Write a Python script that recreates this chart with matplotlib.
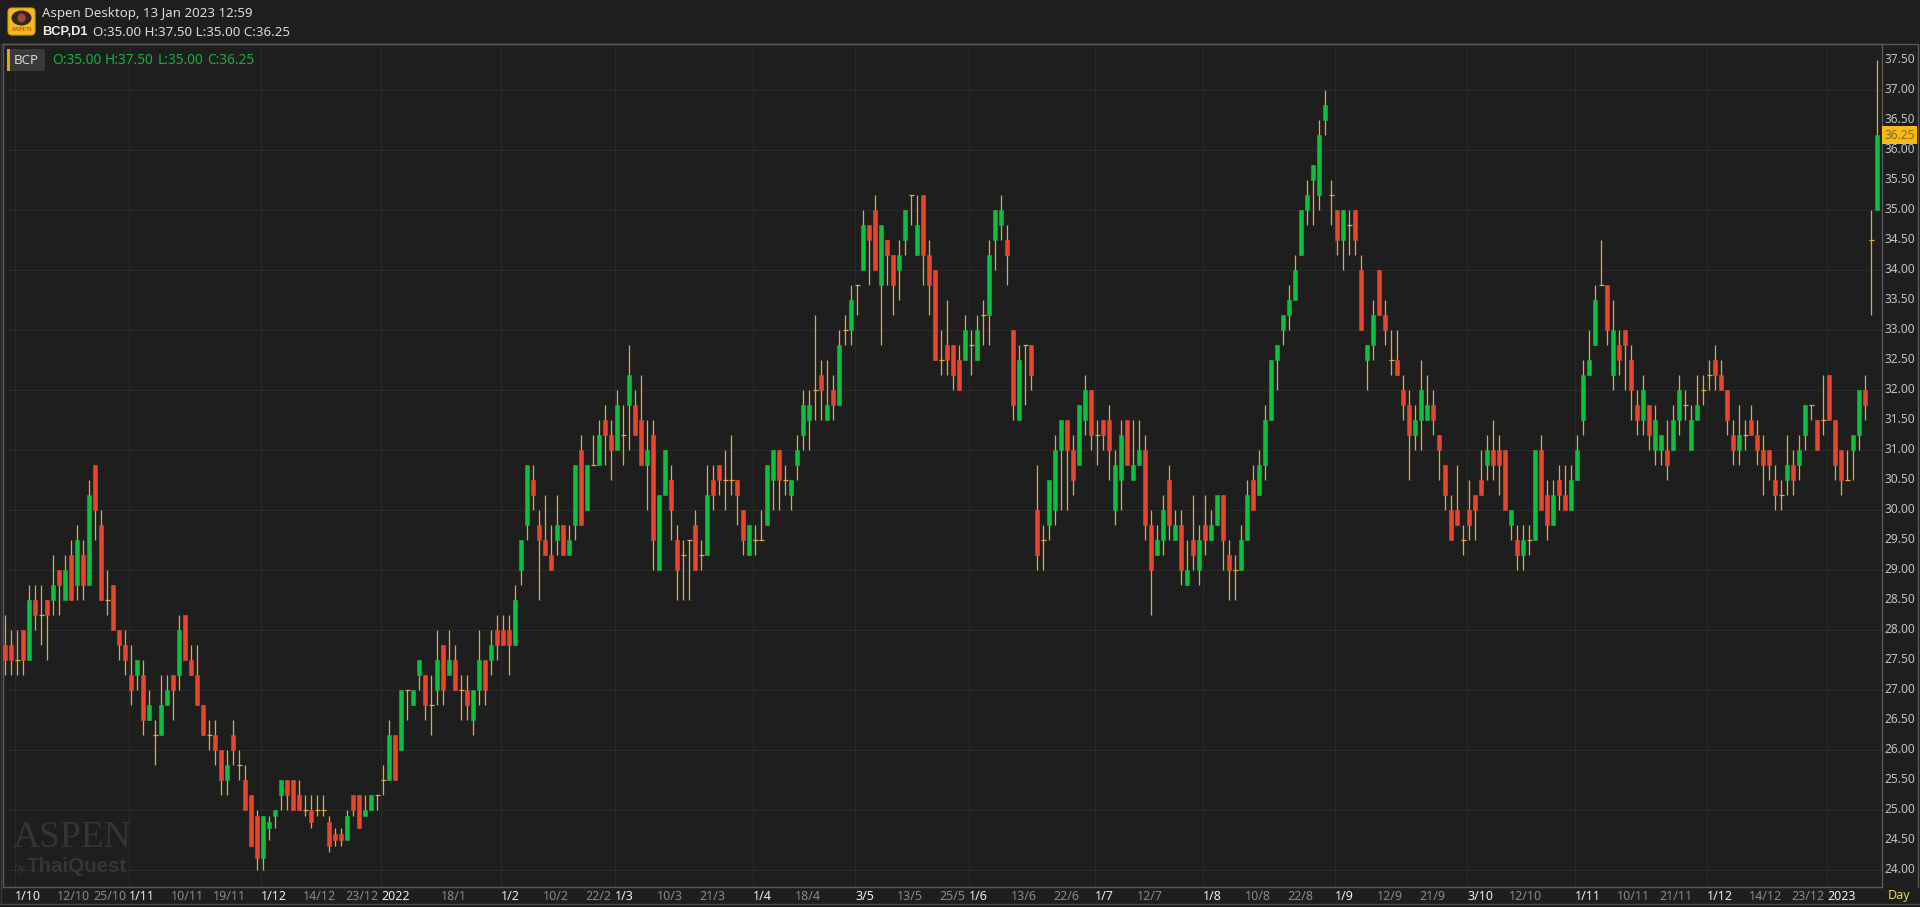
import matplotlib
matplotlib.use("Agg")
import matplotlib.pyplot as plt
from matplotlib.patches import FancyBboxPatch, Ellipse, Rectangle
from matplotlib.transforms import ScaledTranslation

plt.rcParams['font.family'] = ['Noto Sans', 'DejaVu Sans']

# BCP daily candles
opens = [
    27.75, 27.75, 27.5, 28, 27.5, 28.5, 28.25, 28.5, 28.5, 29,
    28.5, 29.25, 28.75, 29.25, 28.75, 30.75, 29.75, 28.5, 28.75, 28,
    27.75, 27.25, 27.25, 27.25, 26.5, 26.25, 26.25, 26.75, 27.25, 27.25,
    28.25, 27.5, 27.25, 26.75, 26.25, 26.25, 26, 25.5, 26.25, 25.75,
    25.5, 25.25, 24.9, 24.2, 24.7, 24.9, 25.25, 25.5, 25.5, 25.25,
    25, 25, 25, 25, 24.8, 24.6, 24.6, 24.5, 25.25, 25.25,
    24.9, 25, 25.25, 25.5, 25.5, 26.25, 26, 27, 26.75, 27.25,
    27.25, 26.75, 27, 27.75, 27.25, 27.5, 27, 27, 26.5, 27,
    27.5, 27.5, 28, 28, 28, 27.75, 29, 29.75, 30.5, 29.75,
    29.5, 29.25, 29.5, 29.75, 29.25, 29.75, 31, 30, 30.75, 30.75,
    31.5, 31.25, 31, 31.25, 31.75, 31.75, 31.5, 30.75, 31.25, 29,
    30.25, 30.5, 29.5, 29.25, 29.5, 29.75, 29.25, 29.25, 30.5, 30.75,
    30.5, 30.5, 30.5, 30, 29.25, 29.5, 29.5, 29.75, 30.5, 31,
    30.5, 30.25, 30.75, 31.25, 31.5, 32, 32.25, 31.5, 32, 31.75,
    33, 33, 33.75, 34, 34.75, 35, 33.75, 34.5, 34.25, 34,
    34.5, 35.25, 34.25, 35.25, 34.25, 34, 32.5, 32.75, 32.75, 32.5,
    32.5, 32.75, 32.5, 33.25, 33.25, 34.5, 34.75, 34.5, 33, 31.5,
    32.75, 32.75, 30, 29.5, 29.75, 30, 31, 31.5, 31, 30.75,
    31.5, 32, 31.25, 31.5, 31.5, 30, 30.5, 31.5, 30.5, 30.75,
    31, 29.75, 29.25, 29.5, 30.5, 29.5, 29.75, 28.75, 29.5, 29,
    29.75, 29.5, 29.75, 30.25, 29.25, 29, 29, 29.5, 30.5, 30.25,
    30.75, 31.5, 32.5, 33, 33.25, 33.5, 34.25, 35, 35.5, 35.25,
    36.5, 35.25, 35, 34.5, 34.75, 35, 34, 32.5, 32.75, 34,
    33.25, 32.5, 32.5, 32, 31.75, 31.25, 31.5, 31.5, 31.75, 31.25,
    30.75, 30, 30, 29.5, 30, 30.25, 30.5, 30.75, 31, 31,
    31, 29.75, 29.5, 29.25, 29.5, 29.5, 31, 30.25, 29.75, 30.5,
    30.25, 30, 30.5, 31.5, 32.25, 32.75, 33.75, 33.75, 32.25, 32.75,
    33, 32.5, 31.75, 31.5, 31.75, 31, 31, 31, 31, 31.5,
    31.75, 31, 31.5, 32, 32.25, 32.5, 32.25, 32, 31.25, 31,
    31.25, 31.5, 31.25, 31, 31, 30.5, 30.25, 30.5, 30.75, 30.75,
    31.25, 31.75, 31.5, 31.5, 32.25, 31.5, 31, 30.5, 31, 31.25,
    32, 34.5, 35,
]
highs = [
    28.25, 28, 28, 28, 28.75, 28.75, 28.75, 28.5, 29.25, 29,
    29.25, 29.5, 29.75, 29.5, 30.5, 30.75, 30, 29, 28.75, 28,
    28, 27.75, 27.5, 27.5, 27, 26.5, 27.25, 27.25, 27.25, 28.25,
    28.25, 27.75, 27.75, 26.75, 26.5, 26.5, 26, 26, 26.5, 26,
    25.75, 25.25, 25, 24.9, 24.9, 25, 25.5, 25.5, 25.5, 25.5,
    25.25, 25.25, 25.25, 25.25, 24.9, 24.7, 24.7, 25, 25.25, 25.25,
    25.25, 25.25, 25.25, 25.75, 26.5, 26.25, 27, 27, 27, 27.5,
    27.25, 27.25, 28, 27.75, 28, 27.75, 27.25, 27.25, 27, 28,
    27.5, 28, 28.25, 28.25, 28.25, 28.75, 29.5, 30.75, 30.75, 30,
    30.25, 29.75, 30.25, 29.75, 29.75, 30.75, 31.25, 30.75, 31.25, 31.5,
    31.75, 31.5, 32, 31.75, 32.75, 32, 32.25, 31.5, 31.5, 30.25,
    31, 30.75, 29.75, 29.5, 29.5, 30, 29.5, 30.75, 30.75, 30.75,
    31, 31.25, 30.5, 30, 29.75, 29.75, 30, 30.75, 31, 31,
    30.75, 30.5, 31.25, 32, 32, 33.25, 32.5, 32.5, 32.25, 33,
    33.25, 33.75, 33.75, 35, 34.75, 35.25, 34.75, 34.5, 34.25, 34.5,
    35, 35.25, 35.25, 35.25, 34.5, 34, 33, 33.5, 32.75, 32.75,
    33.25, 33, 33.25, 33.5, 34.5, 35, 35.25, 34.75, 33, 32.75,
    32.75, 32.75, 30.75, 29.75, 30.5, 31.25, 31.5, 31.5, 31.25, 31.75,
    32.25, 32, 31.5, 31.5, 31.75, 31, 31.5, 31.5, 31.5, 31.5,
    31.25, 30, 29.75, 30.25, 30.75, 30, 30, 29.5, 30.25, 29.75,
    30.25, 30, 30.25, 30.25, 29.5, 29.25, 29.75, 30.5, 30.75, 31,
    31.75, 32.5, 32.75, 33.25, 33.75, 34.25, 35, 35.5, 35.75, 36.5,
    37, 35.5, 35, 35, 35, 35, 34.25, 32.75, 33.5, 34,
    33.5, 33, 33, 32.25, 32, 31.75, 32.5, 32.25, 32, 31.25,
    30.75, 30.25, 30.75, 29.75, 30.5, 30.25, 31, 31.25, 31.5, 31.25,
    31, 30, 29.75, 29.75, 29.75, 31, 31.25, 30.5, 30.5, 30.75,
    30.75, 30.75, 31.25, 32.5, 33, 33.75, 34.5, 33.75, 33.5, 33,
    33, 32.75, 32, 32.25, 31.75, 31.75, 31.25, 31.5, 31.75, 32.25,
    32, 31.75, 32.25, 32.25, 32.5, 32.75, 32.5, 32, 31.5, 31.75,
    31.5, 31.75, 31.5, 31.25, 31, 30.75, 30.5, 31.25, 31, 31.25,
    31.75, 31.75, 31.5, 32.25, 32.25, 31.5, 31, 31, 31.25, 32,
    32.25, 35, 37.5,
]
lows = [
    27.25, 27.25, 27.25, 27.25, 27.5, 28, 27.75, 27.5, 28.25, 28.25,
    28.5, 28.5, 28.5, 28.5, 28.75, 29.5, 28.5, 28.25, 28, 27.5,
    27.25, 26.75, 27, 26.25, 26.5, 25.75, 26.25, 26.75, 26.5, 27,
    27.5, 27.25, 26.75, 26.25, 26, 25.75, 25.25, 25.25, 25.75, 25.5,
    25, 24.4, 24, 24, 24.5, 24.7, 25, 25, 25, 25,
    24.9, 24.7, 24.9, 24.9, 24.3, 24.4, 24.4, 24.5, 24.9, 24.7,
    24.9, 25, 25, 25.25, 25.5, 25.5, 26, 26.5, 26.75, 27,
    26.5, 26.25, 26.75, 26.75, 27.25, 27, 26.5, 26.5, 26.25, 26.75,
    26.75, 27.25, 27.5, 27.75, 27.25, 27.75, 28.75, 29.5, 30, 28.5,
    29.25, 29, 29.25, 29.25, 29.25, 29.5, 29.75, 30, 30.75, 30.75,
    30.75, 30.5, 31, 30.75, 31, 31.25, 30.75, 30, 29, 29,
    30.25, 29.5, 28.5, 28.5, 28.5, 29, 29, 29.25, 30, 30.25,
    30, 30.25, 29.75, 29.25, 29.25, 29.25, 29.5, 29.75, 30, 30,
    30.25, 30, 30.5, 31, 31, 31.5, 31.5, 31.5, 31.5, 31.75,
    32.75, 32.75, 33.25, 34, 33.75, 34, 32.75, 33.75, 33.25, 33.5,
    34.25, 34.75, 34.25, 33.75, 33.25, 32.5, 32.25, 32.25, 32, 32,
    32.5, 32.25, 32.5, 32.75, 32.75, 34, 34.5, 33.75, 31.5, 31.5,
    31.75, 32, 29, 29, 29.5, 29.75, 30, 30, 30.25, 30.75,
    31.25, 31, 30.75, 31, 30.5, 29.75, 30, 30.75, 30.5, 30.75,
    29.5, 28.25, 29.25, 29.25, 29.5, 29.5, 28.75, 28.75, 29, 28.75,
    29.25, 29.5, 29.75, 29, 28.5, 28.5, 29, 29.5, 30, 30.25,
    30.5, 31.5, 32, 32.75, 33, 33.5, 34.25, 34.75, 34.75, 35,
    36.25, 34.75, 34.25, 34, 34.25, 34.25, 33, 32, 32.5, 33.25,
    32.75, 32.25, 32.25, 31.5, 30.5, 31, 31, 31.5, 31.25, 30.5,
    30, 29.5, 29.75, 29.25, 29.5, 29.5, 30.25, 30.5, 30.5, 30.25,
    30, 29.5, 29, 29, 29.25, 29.5, 30, 29.5, 29.75, 30,
    30, 30, 30.5, 31.25, 32.25, 32.75, 33.75, 32.75, 32, 32.25,
    32, 31.5, 31.25, 31.25, 31, 30.75, 30.75, 30.5, 31, 31.25,
    31.5, 31, 31.5, 31.75, 32, 32, 32, 31.25, 30.75, 30.75,
    31, 31.25, 30.75, 30.25, 30.5, 30, 30, 30.25, 30.25, 30.5,
    31, 31.5, 31, 31.25, 31.5, 30.5, 30.25, 30.5, 30.5, 31,
    31.5, 33.25, 35,
]
closes = [
    27.5, 27.5, 27.5, 27.5, 28.5, 28.25, 28.25, 28.25, 28.75, 28.75,
    29, 28.5, 29.5, 28.75, 30.25, 30, 28.5, 28.5, 28, 27.75,
    27.5, 27, 27.5, 26.5, 26.75, 26.25, 26.75, 27, 27, 28,
    27.5, 27.25, 26.75, 26.25, 26.25, 26, 25.5, 25.75, 26, 25.75,
    25, 24.4, 24.2, 24.9, 24.8, 25, 25.5, 25.25, 25, 25,
    25, 24.8, 25, 25, 24.4, 24.5, 24.5, 24.9, 25, 24.7,
    25, 25.25, 25.25, 25.5, 26.25, 25.5, 27, 27, 27, 27.5,
    26.75, 26.75, 27.5, 27, 27.5, 27, 27, 26.75, 27, 27.5,
    27, 27.75, 27.75, 27.75, 27.75, 28.5, 29.5, 30.75, 30.25, 29.5,
    29.25, 29, 29.75, 29.25, 29.5, 30.75, 29.75, 30.75, 30.75, 31.25,
    31.25, 31, 31.75, 31.25, 32.25, 31.25, 30.75, 31, 29.5, 30.25,
    31, 30, 29, 29.25, 29.5, 29, 29.25, 30.25, 30.25, 30.5,
    30.5, 30.5, 30.25, 29.5, 29.75, 29.5, 29.5, 30.75, 31, 30.5,
    30.5, 30.5, 31, 31.75, 31.75, 32, 32, 31.75, 31.75, 32.75,
    33, 33.5, 33.75, 34.75, 34.5, 34, 34.75, 34.25, 33.75, 34.25,
    35, 35.25, 34.75, 34.25, 33.75, 32.5, 32.5, 32.5, 32.25, 32,
    33, 32.75, 33, 33.25, 34.25, 35, 35, 34.25, 31.75, 32.5,
    32.75, 32.25, 29.25, 29.5, 30.5, 31, 31.5, 31, 30.5, 31.75,
    32, 31.25, 31.25, 31.25, 31, 30.75, 31.25, 30.75, 30.75, 31,
    29.75, 29, 29.5, 30, 29.75, 29.75, 29, 29, 29.25, 29.5,
    29.5, 29.75, 30.25, 29.5, 29, 29, 29.5, 30.25, 30, 30.75,
    31.5, 32.5, 32.75, 33.25, 33.5, 34, 35, 35.25, 35.75, 36.25,
    36.75, 35.25, 34.5, 35, 34.75, 34.5, 33, 32.75, 33.25, 33.25,
    33, 32.5, 32.25, 31.75, 31.25, 31.5, 32, 31.75, 31.5, 31,
    30.25, 29.5, 29.75, 29.5, 29.75, 30, 30.25, 31, 30.75, 30.75,
    30, 30, 29.25, 29.5, 29.5, 31, 30, 29.75, 30.25, 30.25,
    30, 30.5, 31, 32.25, 32.5, 33.5, 33.75, 33, 33, 32.5,
    32.75, 32, 31.5, 32, 31.25, 31.5, 31.25, 30.75, 31.5, 32,
    31.75, 31.5, 31.75, 32, 32.25, 32.25, 32, 31.5, 31, 31.25,
    31.25, 31.25, 31, 30.75, 30.75, 30.25, 30.25, 30.75, 30.5, 31,
    31.75, 31.75, 31, 31.5, 31.5, 30.75, 30.5, 30.5, 31.25, 32,
    31.75, 34.5, 36.25,
]

# month starts (bright labels, with grid line) and the dates between them
month_bars = [2, 21, 43, 63, 83, 102, 125, 142, 161, 182, 200, 222, 244, 262, 284, 304]
month_labels = ['1/10', '1/11', '1/12', '2022', '1/2', '1/3', '1/4', '3/5', '1/6',
                '1/7', '1/8', '1/9', '3/10', '1/11', '1/12', '2023']
date_bars = [9, 15, 28, 35, 50, 57, 73, 90, 97, 109, 116, 132, 149, 156, 168, 175,
             189, 207, 214, 229, 236, 251, 269, 276, 291, 298]
date_labels = ['12/10', '25/10', '10/11', '19/11', '14/12', '23/12', '18/1', '10/2',
               '22/2', '10/3', '21/3', '18/4', '13/5', '25/5', '13/6', '22/6', '12/7',
               '10/8', '22/8', '12/9', '21/9', '12/10', '10/11', '21/11', '14/12', '23/12']
price_major = [24, 25, 26, 27, 28, 29, 30, 31, 32, 33, 34, 35, 36, 37]
price_minor = [24.5, 25.5, 26.5, 27.5, 28.5, 29.5, 30.5, 31.5, 32.5, 33.5, 34.5, 35.5, 36.5, 37.5]

BG = '#1e1e1e'
GRID = '#2a2a2a'
FRAME = '#5a5a5a'
UP = '#0cbf3e'
DOWN = '#e8452f'
WICK = '#e6a93a'

W, H = 1920, 907
fig = plt.figure(figsize=(W / 100, H / 100), dpi=100, facecolor=BG)

# chart area in pixels: x 3..1882, y 44..887
ax = fig.add_axes([3 / W, 1 - 887 / H, 1879 / W, 843 / H], facecolor=BG)
ax.set_xlim(-0.383, 312.783)
ax.set_ylim(23.717, 37.767)

# Wicks first, then bodies on top
bars = range(len(opens))
ax.vlines(bars, lows, highs, color=WICK, lw=0.9, zorder=3)
for i in bars:
    o, c = opens[i], closes[i]
    if o == c:
        ax.hlines(o, i - 0.42, i + 0.42, color=WICK, lw=0.9, zorder=3)
    else:
        col = UP if c > o else DOWN
        ax.bar(i, abs(c - o), bottom=min(o, c), width=0.72, color=col,
               edgecolor=col, lw=0.4, zorder=4)

# Axes, the grid sits on the month / whole price ticks only
ax.set_xticks([b - 0.35 for b in month_bars], month_labels)
ax.set_xticks([b - 0.35 for b in date_bars], date_labels, minor=True)
ax.set_yticks(price_major, [f'{p:.2f}' for p in price_major])
ax.set_yticks(price_minor, [f'{p:.2f}' for p in price_minor], minor=True)
ax.grid(True, which='major', color=GRID, lw=0.8, zorder=0)
ax.yaxis.tick_right()
ax.tick_params(axis='x', which='major', length=0, pad=2.5, labelsize=9, labelcolor='#f0f0f0')
ax.tick_params(axis='x', which='minor', length=0, pad=2.5, labelsize=9, labelcolor='#8a8a8a')
ax.tick_params(axis='y', which='both', length=0, pad=1.5, labelsize=8.6, labelcolor='#c4c4c4')
for lab in ax.get_xticklabels() + ax.get_xticklabels(minor=True):
    lab.set_ha('left')
# price labels sit a little above their grid line
lift = ScaledTranslation(0, 1.6 / 72, fig.dpi_scale_trans)
for lab in ax.yaxis.get_ticklabels(which='both'):
    lab.set_transform(lab.get_transform() + lift)
for s in ax.spines.values():
    s.set_color(FRAME)
    s.set_linewidth(1)

# last price tag
ax.text(1.0012, closes[-1], f'{closes[-1]:.2f}', transform=ax.get_yaxis_transform(),
        ha='left', va='center', fontsize=8.6, color='#7d6a2a', zorder=6, clip_on=False,
        bbox=dict(boxstyle='square,pad=0.2', fc='#fdb813', ec='none'))

# Header, logo, watermark and outer frame, positioned in pixels
top = fig.add_axes([0, 0, 1, 1], facecolor='none')
top.set_xlim(0, W)
top.set_ylim(H, 0)
top.axis('off')

top.plot([3, 1918, 1918], [44, 44, 887], color=FRAME, lw=1)
top.plot([0, 1920], [904, 904], color='#4a4a4a', lw=1)
top.plot([1, 1], [44, 904], color='#3a3a3a', lw=1)

top.add_patch(FancyBboxPatch((8, 8), 27, 27, boxstyle='round,pad=0,rounding_size=4',
                             fc='#f8b820', ec='#d99a10', lw=0.8))
top.add_patch(Ellipse((21.5, 18), 20, 15, fc='#33261e', ec='none'))
top.add_patch(Ellipse((21.5, 18), 8, 9, fc='#a04a3a', ec='none'))
top.text(21.5, 29.5, 'ASPEN', fontsize=5, color='#8a3a10', ha='center', va='center',
         family='Liberation Serif')

top.text(42, 14, 'Aspen Desktop, 13 Jan 2023 12:59', fontsize=9.55, color='#dcdcdc', va='center')
top.text(42, 32, 'BCP,D1', fontsize=9.3, color='#eeeeee', fontweight='bold', va='center',
         family='Liberation Sans')
top.text(93, 32, 'O:35.00 H:37.50 L:35.00 C:36.25', fontsize=9.6, color='#dcdcdc', va='center')

top.add_patch(FancyBboxPatch((7, 49), 38, 22, boxstyle='round,pad=0,rounding_size=2',
                             fc='#3a3a3a', ec='none'))
top.add_patch(Rectangle((7, 49), 3, 22, fc='#f0a020', ec='none'))
top.text(14, 60.5, 'BCP', fontsize=9.6, color='#d8d8d8', va='center')
for x, s in zip([52, 105, 158, 207], ['O:35.00', 'H:37.50', 'L:35.00', 'C:36.25']):
    top.text(x, 60.5, s, fontsize=9.8, color='#16b040', va='center')

top.text(13, 838, 'ASPEN', fontsize=27, color='#353535', va='center', family='Liberation Serif')
top.text(13, 868, 'by', fontsize=7.5, color='#353535', va='center')
top.text(27, 866, 'ThaiQuest', fontsize=14.8, color='#353535', va='center', fontweight='bold',
         family='Liberation Sans')

top.text(1899, 895.5, 'Day', fontsize=9, color='#e4e040', ha='center', va='center')

fig.savefig('out.png', dpi=100, facecolor=BG)
